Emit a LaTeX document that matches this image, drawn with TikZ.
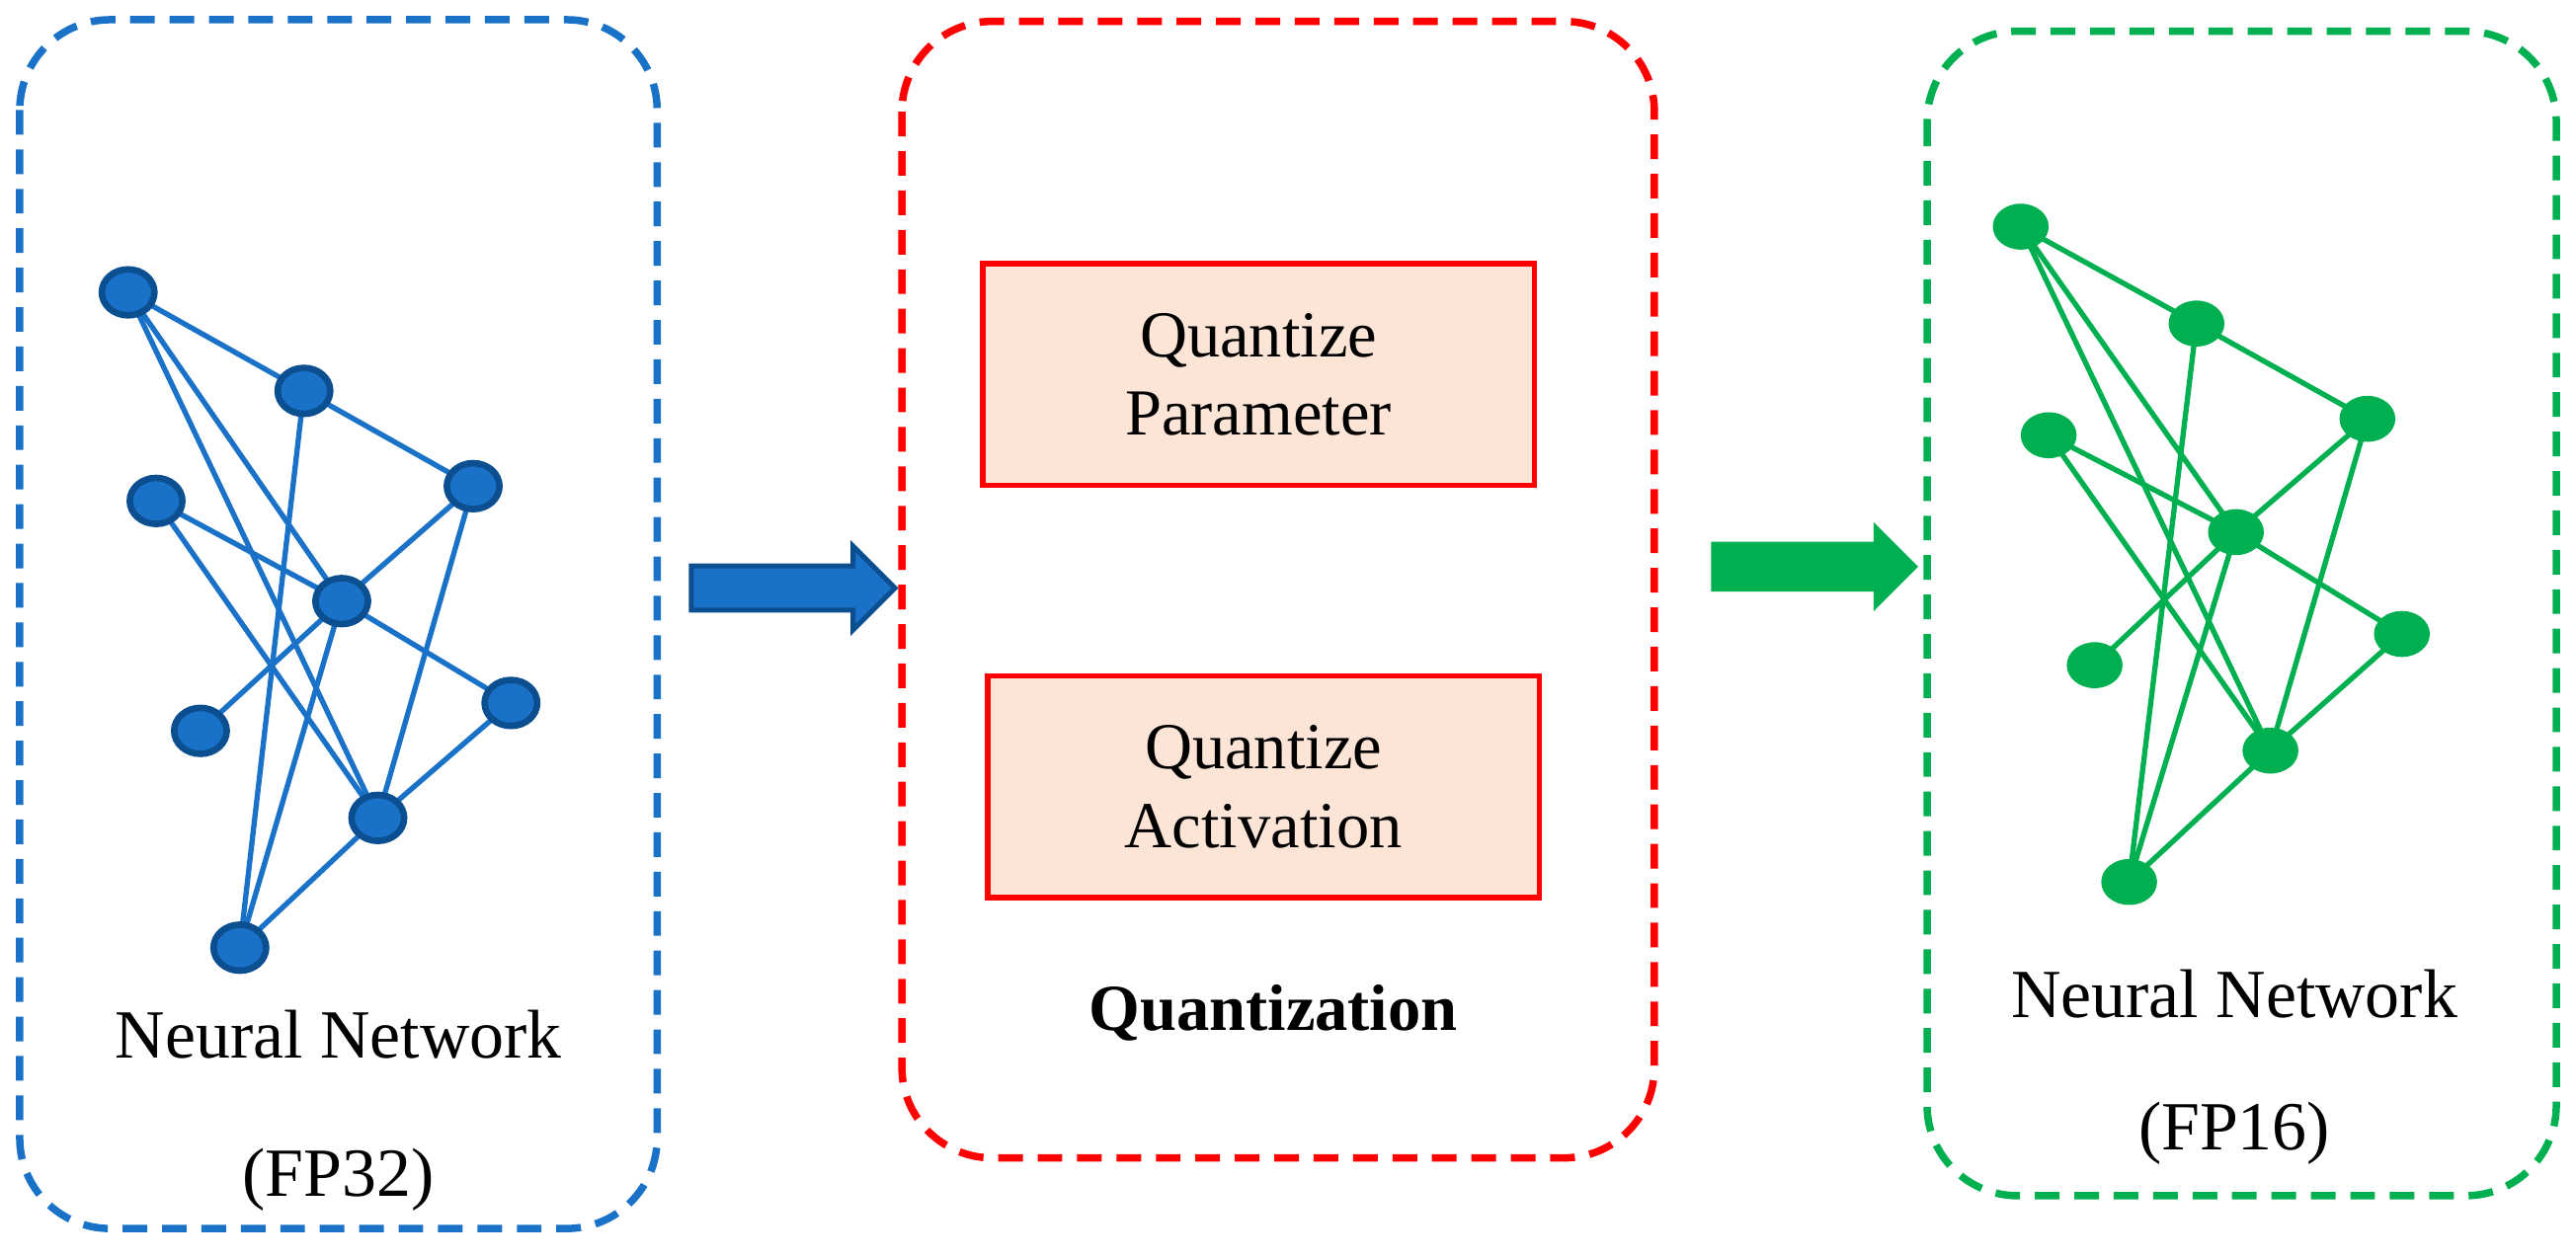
\documentclass[tikz,border=0pt]{standalone}
\usepackage{fontspec}
\setmainfont{Liberation Serif}
\usetikzlibrary{shapes.geometric,shapes.arrows}
\definecolor{bl}{HTML}{1A72C8}
\definecolor{bld}{HTML}{0B4F91}
\definecolor{gr}{HTML}{00B050}
\definecolor{rd}{HTML}{FF0000}
\definecolor{peach}{HTML}{FCE4D6}
\begin{document}
\begin{tikzpicture}[x=1pt,y=-1pt,
  frame/.style={line width=4.5pt,dash pattern=on 15pt off 9pt,rounded corners=55pt},
  bn/.style={ellipse,fill=bl,draw=bld,line width=4pt,minimum width=32pt,minimum height=28pt,inner sep=0},
  gn/.style={ellipse,fill=gr,minimum width=34pt,minimum height=28pt,inner sep=0},
  be/.style={bl,line width=3.2pt},
  ge/.style={gr,line width=3.2pt},
  lab/.style={font=\fontsize{42}{46}\selectfont},
  qbox/.style={draw=rd,fill=peach,line width=3.5pt,minimum width=336pt,minimum height=135pt,align=center,font=\fontsize{40}{48}\selectfont}]
\useasboundingbox (0,0) rectangle (1568,766);
\draw[frame,draw=bl] (12,12) rectangle (400,748);
\draw[frame,draw=rd] (549,13) rectangle (1007,705);
\draw[frame,draw=gr] (1173,19) rectangle (1556,728);
% blue network
\foreach \n/\x/\y in {A/78/178,B/185/238,C/95/305,D/288/296,E/208/366,F/122/445,G/311/428,H/230/498,I/146/577}
  \coordinate (b\n) at (\x,\y);
\foreach \u/\v in {A/B,A/H,A/E,B/D,B/I,C/E,C/H,D/E,D/H,E/F,E/G,E/I,G/H,H/I}
  \draw[be] (b\u) -- (b\v);
\foreach \n in {A,B,C,D,E,F,G,H,I}
  \node[bn] (nb\n) at (b\n) {};
% green network
\foreach \n/\x/\y in {A/1230/138,B/1337/197,C/1247/265,D/1441/255,E/1361/324,F/1275/405,G/1462/386,H/1382/457,I/1296/537}
  \coordinate (g\n) at (\x,\y);
\foreach \u/\v in {A/B,A/H,A/E,B/D,B/I,C/E,C/H,D/E,D/H,E/F,E/G,E/I,G/H,H/I}
  \draw[ge] (g\u) -- (g\v);
\foreach \n in {A,B,C,D,E,F,G,H,I}
  \node[gn] (ng\n) at (g\n) {};
% labels
\node[lab] (l1) at (206,630) {Neural Network};
\node[lab] (l2) at (206,718) {(FP32)};
\node[lab] (r1) at (1360,605) {Neural Network};
\node[lab] (r2) at (1360,690) {(FP16)};
\node[lab,font=\fontsize{40}{44}\selectfont\bfseries] (q) at (775,617) {Quantization};
\node[qbox] (p1) at (766,228) {Quantize\\Parameter};
\node[qbox] (p2) at (769,479) {Quantize\\Activation};
% arrows
\node[single arrow,fill=bl,draw=bld,line width=3pt,minimum height=124pt,inner xsep=0pt,inner ysep=12pt,single arrow head extend=12pt] (a1) at (476,358) {};
\node[single arrow,fill=gr,minimum height=126pt,inner xsep=0pt,inner ysep=15pt,single arrow head extend=12pt] (a2) at (1097,345) {};
\end{tikzpicture}
\end{document}
